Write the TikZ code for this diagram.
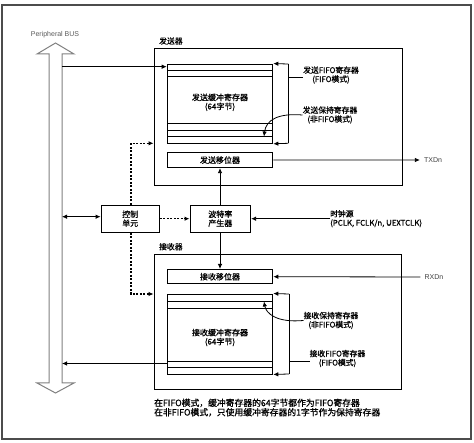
\documentclass[tikz,border=0pt]{standalone}
\usepackage{fontspec}
\setmainfont{Liberation Sans}
\newfontfamily\cjk[FakeBold=1]{Noto Sans CJK SC}
\usetikzlibrary{arrows.meta}
\begin{document}
\begin{tikzpicture}[x=1pt,y=-1pt,
 box/.style={draw, line width=0.9pt, inner sep=0pt, font=\cjk\fontsize{8}{9}\selectfont, align=center},
 lab/.style={inner sep=0pt, font=\cjk\fontsize{7.8}{9}\selectfont, align=center},
 en/.style={inner sep=0pt, font=\fontsize{7}{8}\selectfont, text=black!75},
 arr/.style={-{Latex[length=5pt,width=4.5pt]}, line width=0.8pt},
 biarr/.style={{Latex[length=5pt,width=4.5pt]}-{Latex[length=5pt,width=4.5pt]}, line width=0.8pt},
 darr/.style={-{Latex[length=5pt,width=4.5pt]}, line width=1.2pt, dash pattern=on 2pt off 1.5pt},
 thin/.style={line width=0.8pt},
]
\useasboundingbox (0,0) rectangle (474,443);
% outer frame
\draw[black!70, line width=1.3pt] (2,5) rectangle (471,439);
% peripheral bus (hollow double arrow)
\draw[black!50, line width=1pt, fill=white]
  (55.5,43) -- (74,54) -- (62,54) -- (62,383) -- (74,383) -- (55.5,393)
  -- (37,383) -- (49,383) -- (49,54) -- (37,54) -- cycle;
\node[en, text=black!65] (busl) at (55,35) {Peripheral BUS};
\coordinate (bus1) at (62,66.7);
\coordinate (bus2) at (62,216.7);
\coordinate (bus3) at (62,363.5);

% transmitter
\node[lab, anchor=west] (txl) at (159,41) {发送器};
\node[box, minimum width=248pt, minimum height=137pt] (txbox) at (278,116.5) {};
\node[box, minimum width=105.7pt, minimum height=79.3pt] (txbuf) at (220,103.7) {};
\node[box, draw=none] (txbuft) at (220,102.3) {发送缓冲寄存器\\(64字节)};
\draw[thin] (167,70.7) -- (272.7,70.7);
\draw[thin] (167,76.7) -- (272.7,76.7);
\draw[thin] (167,123.3) -- (272.7,123.3);
\draw[thin] (167,130) -- (272.7,130);
\draw[thin] (167,136.7) -- (272.7,136.7);
\node[box, minimum width=105.7pt, minimum height=15.2pt] (txsh) at (220,160.1) {发送移位器};

\coordinate (txbT) at (288.3,64);
\coordinate (txbB) at (288.3,143.3);
\coordinate (txbM) at (288.3,77);
\draw[thin] (txbT) -- (txbB);
\draw[arr] (txbT) -- (txbuf.north east);
\draw[arr] (txbB) -- (txbuf.south east);
\node[lab] (txfifo) at (331,75) {发送FIFO寄存器\\(FIFO模式)};
\draw[thin] (txbM) -- (txfifo.west |- txbM);
\node[lab] (txhold) at (330,115) {发送保持寄存器\\(非FIFO模式)};
\coordinate (txholdT) at (264,136.5);
\draw[arr] (txhold.west) .. controls (278,113) and (266,120) .. (txholdT);

\node[en] (txd) at (433,160) {TXDn};
\draw[arr, shorten >=4pt] (txsh.east) -- (txd.west);
\draw[arr] (bus1) -- (txbuf.west |- bus1);

% receiver box
\node[lab, anchor=west] (rxl) at (159,246.7) {接收器};
\node[box, minimum width=247pt, minimum height=134.7pt] (rxbox) at (277.5,321.7) {};

% control and baud
\node[box, minimum width=58.3pt, minimum height=27.3pt] (ctrl) at (130.2,218.7) {控制\\单元};
\node[box, minimum width=60.7pt, minimum height=27.3pt] (baud) at (220.3,218.7) {波特率\\产生器};
\draw[biarr] (bus2) -- (ctrl.west |- bus2);
\draw[darr] (ctrl.east) -- (baud.west);
\coordinate (d1) at (131,143.3);
\coordinate (d2) at (131,294);
\draw[darr] (ctrl.north -| d1) |- (txbox.west |- d1);
\draw[darr] (ctrl.south -| d2) |- (rxbox.west |- d2);
\draw[arr] (baud.north -| txsh.south) -- (txsh.south);
\node[lab, align=left, anchor=west] (clk) at (330,218.7) {时钟源\\(PCLK, FCLK/n, UEXTCLK)};
\draw[arr] (clk.west) -- (baud.east);

% receiver contents
\node[box, minimum width=105.7pt, minimum height=14.5pt] (rxsh) at (220,276.7) {接收移位器};
\draw[arr] (baud.south -| rxsh.north) -- (rxsh.north);
\node[box, minimum width=105.7pt, minimum height=80pt] (rxbuf) at (220,334) {};
\node[box, draw=none] (rxbuft) at (220,337.5) {接收缓冲寄存器\\(64字节)};
\draw[thin] (167,301) -- (272.7,301);
\draw[thin] (167,308) -- (272.7,308);
\draw[thin] (167,361) -- (272.7,361);
\draw[thin] (167,367.5) -- (272.7,367.5);

\coordinate (rxbT) at (289,294);
\coordinate (rxbB) at (289,374);
\coordinate (rxbM) at (289,361);
\draw[thin] (rxbT) -- (rxbB);
\draw[arr] (rxbT) -- (rxbuf.north east);
\draw[arr] (rxbB) -- (rxbuf.south east);
\node[lab] (rxfifo) at (337.5,358.5) {接收FIFO寄存器\\(FIFO模式)};
\draw[thin] (rxbM) -- (rxfifo.west |- rxbM);
\node[lab] (rxhold) at (331,320.5) {接收保持寄存器\\(非FIFO模式)};
\coordinate (rxholdT) at (264,301.5);
\draw[arr] (rxhold.west) .. controls (276,323) and (266,313) .. (rxholdT);

\node[en] (rxd) at (434,277) {RXDn};
\draw[arr, shorten <=4pt] (rxd.west) -- (rxsh.east);
\draw[arr] (rxbuf.west |- bus3) -- (bus3);

% note
\node[lab, align=left, anchor=north west, font=\cjk\fontsize{8.8}{9.4}\selectfont] (note) at (154,398.5)
  {在FIFO模式，缓冲寄存器的64字节都作为FIFO寄存器\\在非FIFO模式，只使用缓冲寄存器的1字节作为保持寄存器};
\end{tikzpicture}
\end{document}
